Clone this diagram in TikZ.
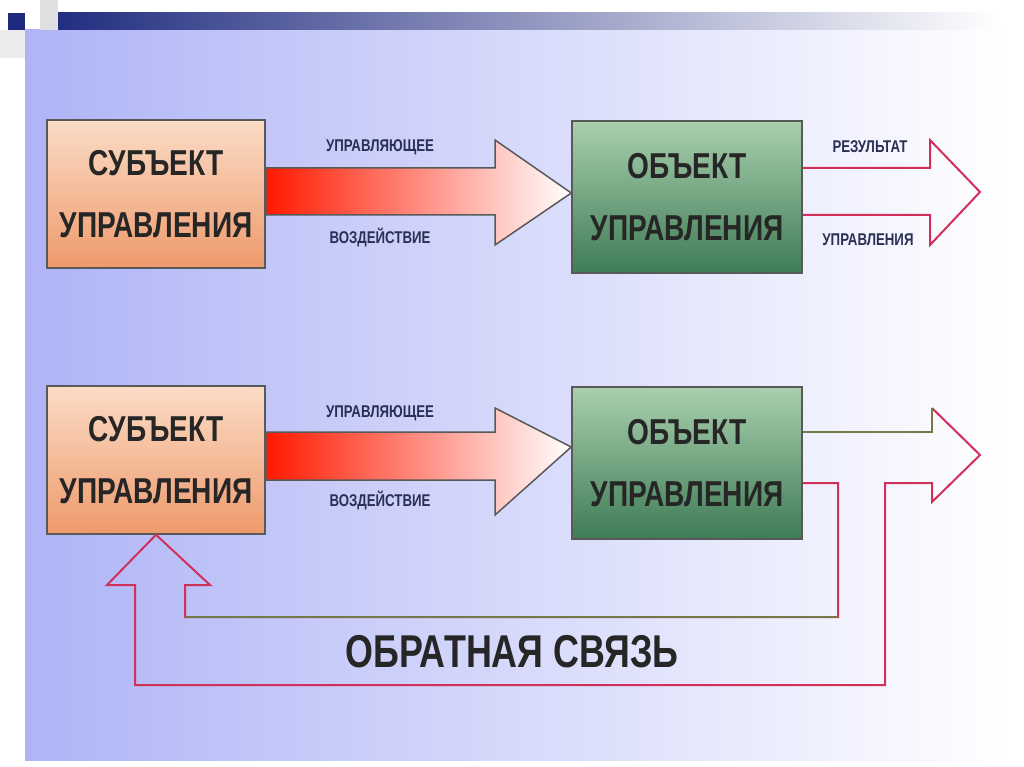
\documentclass[tikz,border=0pt]{standalone}
\usepackage{fontspec}
\setmainfont{Liberation Sans}[FakeStretch=0.78]
\usetikzlibrary{positioning}
\definecolor{subjtop}{HTML}{FBDCC6}
\definecolor{subjbot}{HTML}{EE9A6C}
\definecolor{objtop}{HTML}{A9CFAE}
\definecolor{objbot}{HTML}{3E7C55}
\definecolor{linkred}{HTML}{D0305A}
\definecolor{olive}{HTML}{737A4A}
\definecolor{panelblue}{HTML}{AEB4F6}
\definecolor{barblue}{HTML}{1E2A7E}
\definecolor{labelblue}{HTML}{2A2F55}

\begin{document}
\begin{tikzpicture}[x=1pt,y=-1pt,
    subjbox/.style={draw=gray!70!black, line width=1.5pt, minimum width=218pt, minimum height=148pt, align=center,
        top color=subjtop, bottom color=subjbot, font=\bfseries\fontsize{36}{62}\selectfont, text=black!85},
    objbox/.style={subjbox, top color=objtop, bottom color=objbot, minimum width=230pt, minimum height=152pt},
    tag/.style={font=\bfseries\fontsize{17}{17}\selectfont, text=labelblue},
    hollow/.style={draw=linkred, line width=2pt, line join=miter}
]

% Slide background
\useasboundingbox (0,0) rectangle (1024,767);
\fill[white] (0,0) rectangle (1024,767);
\shade[left color=panelblue, right color=white] (25,30) rectangle (1008,760);
\shade[left color=barblue, right color=white] (40,13) rectangle (1000,30);
\fill[barblue] (8,13) rectangle (25,30);
\fill[gray!25] (40,0) rectangle (58,30);
\fill[gray!15] (0,30) rectangle (25,58);

% Top scheme
\node[subjbox] (subj1) at (156,194) {СУБЪЕКТ\\УПРАВЛЕНИЯ};
\node[objbox] (obj1) at (687,197) {ОБЪЕКТ\\УПРАВЛЕНИЯ};
\shade[left color=red!80!orange, right color=white, draw=gray!70!black, line width=1.5pt]
    (subj1.east |- 0,168) -- (495,168) -- (495,140) -- (obj1.west |- 0,193) -- (495,245) -- (495,215) -- (subj1.east |- 0,215) -- cycle;
\node[tag] (act1a) at (380,147) {УПРАВЛЯЮЩЕЕ};
\node[tag] (act1b) at (380,237) {ВОЗДЕЙСТВИЕ};
\draw[hollow] (obj1.east |- 0,168) -- (930,168) -- (930,140) -- (980,192) -- (930,245) -- (930,215) -- (obj1.east |- 0,215);
\node[tag] (res1a) at (870,147) {РЕЗУЛЬТАТ};
\node[tag] (res1b) at (868,240) {УПРАВЛЕНИЯ};

% Bottom scheme
\node[subjbox] (subj2) at (156,460) {СУБЪЕКТ\\УПРАВЛЕНИЯ};
\node[objbox] (obj2) at (687,463) {ОБЪЕКТ\\УПРАВЛЕНИЯ};
\shade[left color=red!80!orange, right color=white, draw=gray!70!black, line width=1.5pt]
    (subj2.east |- 0,432) -- (495,432) -- (495,408) -- (obj2.west |- 0,447) -- (495,515) -- (495,480) -- (subj2.east |- 0,480) -- cycle;
\node[tag] (act2a) at (380,413) {УПРАВЛЯЮЩЕЕ};
\node[tag] (act2b) at (380,500) {ВОЗДЕЙСТВИЕ};

% Feedback loop
\draw[hollow] (obj2.east |- 0,483) -- (838,483) -- (838,617) -- (185,617) -- (185,585) -- (210,585)
    -- (subj2.south) -- (107,585) -- (135,585) -- (135,685) -- (885,685) -- (885,483) -- (932,483)
    -- (932,502) -- (980,455) -- (932,408);
\draw[olive, line width=2pt] (obj2.east |- 0,432) -- (932,432) -- (932,408);
\draw[olive, line width=2pt] (838,617) -- (185,617);
\node[font=\bfseries\fontsize{46}{46}\selectfont, text=black!85] (fb) at (512,652) {ОБРАТНАЯ СВЯЗЬ};

\end{tikzpicture}
\end{document}
